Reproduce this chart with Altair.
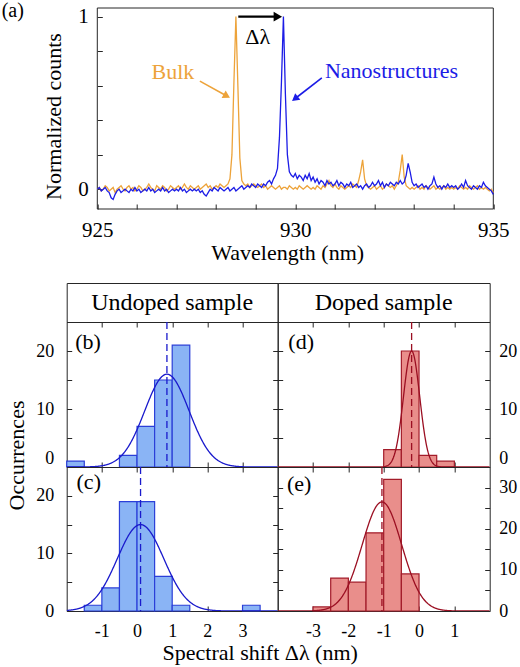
import altair as alt
import numpy as np
import pandas as pd

FONT = "Liberation Serif"
INK = "#262626"

# ---------------- (a) PL spectra ----------------
wavelength = np.round(np.arange(925.0, 935.0001, 0.05), 2)

bulk_counts = [
    0.00, 0.01, -0.01, 0.00, 0.02, 0.01, -0.01, 0.00, 0.01, -0.02, 0.00, 0.01, 0.02, 0.00, -0.01, 0.01, 0.02, 0.00, 0.01, -0.01,
    0.00, 0.02, 0.01, -0.01, 0.00, 0.01, 0.03, 0.01, 0.00, -0.01, 0.02, 0.01, 0.00, 0.02, 0.01, -0.01, 0.00, 0.02, 0.01, 0.00,
    0.01, 0.02, 0.00, 0.01, 0.03, 0.01, 0.00, 0.02, 0.01, 0.00, 0.01, 0.02, 0.00, 0.01, 0.02, 0.03, 0.01, 0.02, 0.00, 0.01,
    0.02, 0.01, 0.03, 0.02, 0.01, 0.02, 0.03, 0.06, 0.20, 0.62, 1.00, 0.60, 0.18, 0.05, 0.03, 0.02, 0.03, 0.01, 0.02, 0.03,
    0.02, 0.01, 0.02, 0.03, 0.01, 0.02, 0.00, 0.01, 0.02, 0.01, 0.00, 0.01, 0.02, 0.00, 0.01, 0.01, 0.00, 0.02, 0.01, 0.00,
    0.01, 0.00, 0.02, 0.01, 0.00, 0.01, 0.02, 0.01, 0.00, 0.01, 0.00, 0.02, 0.01, 0.00, 0.02, 0.01, 0.03, 0.05, 0.02, 0.01,
    0.03, 0.01, 0.00, 0.02, 0.01, 0.00, 0.01, 0.02, 0.01, 0.03, 0.02, 0.01, 0.05, 0.10, 0.17, 0.06, 0.02, 0.01, 0.00, 0.01,
    0.02, 0.00, 0.01, 0.02, 0.00, 0.01, 0.03, 0.02, 0.01, 0.02, 0.00, 0.02, 0.04, 0.11, 0.20, 0.07, 0.02, 0.01, 0.00, 0.01,
    0.00, 0.01, 0.02, 0.00, 0.01, 0.00, 0.02, 0.01, 0.00, 0.01, 0.02, 0.00, 0.01, 0.00, 0.01, 0.02, 0.00, 0.01, 0.00, 0.01,
    0.00, 0.01, 0.00, 0.02, 0.01, 0.00, 0.01, 0.00, 0.02, 0.01, 0.00, 0.01, 0.02, 0.00, 0.01, 0.00, 0.01, 0.00, -0.01, 0.00,
    -0.02,
]

nano_counts = [
    0.00, 0.01, -0.01, 0.00, 0.01, -0.01, -0.02, -0.05, -0.06, -0.03, -0.01, 0.00, -0.02, -0.01, 0.00, -0.01, -0.02, 0.00, -0.01, 0.01,
    -0.01, 0.00, -0.02, -0.01, 0.00, -0.01, 0.01, -0.01, 0.00, -0.02, -0.01, 0.00, -0.01, 0.01, -0.01, 0.00, -0.02, -0.01, 0.00, -0.01,
    0.00, -0.01, 0.01, -0.01, 0.00, -0.02, -0.01, 0.00, -0.01, 0.00, -0.01, 0.00, -0.02, -0.01, -0.03, -0.04, -0.02, 0.00, -0.01, 0.01,
    0.00, -0.01, 0.01, 0.00, -0.01, 0.00, 0.01, -0.01, 0.00, 0.01, -0.01, 0.00, 0.01, 0.02, 0.00, 0.01, 0.02, 0.01, 0.03, 0.02,
    0.01, 0.03, 0.02, 0.01, 0.03, 0.02, 0.04, 0.05, 0.03, 0.06, 0.08, 0.12, 0.30, 0.62, 1.00, 0.55, 0.20, 0.10, 0.08, 0.07,
    0.09, 0.06, 0.08, 0.07, 0.05, 0.08, 0.06, 0.09, 0.05, 0.07, 0.04, 0.06, 0.03, 0.05, 0.04, 0.02, 0.05, 0.03, 0.04, 0.02,
    0.03, 0.05, 0.02, 0.04, 0.03, 0.01, 0.03, 0.02, 0.04, 0.01, 0.02, 0.03, 0.01, 0.02, 0.00, 0.02, 0.03, 0.01, 0.02, 0.04,
    0.02, 0.03, 0.05, 0.02, 0.04, 0.01, 0.03, 0.02, 0.04, 0.03, 0.02, 0.04, 0.03, 0.05, 0.03, 0.04, 0.08, 0.15, 0.10, 0.04,
    0.02, 0.03, 0.01, 0.02, 0.03, 0.01, 0.02, 0.00, 0.02, 0.03, 0.07, 0.03, 0.01, 0.02, 0.00, 0.02, 0.01, 0.03, 0.01, 0.02,
    0.01, 0.02, 0.00, 0.01, 0.03, 0.01, 0.05, 0.02, 0.01, 0.00, 0.02, 0.01, 0.00, 0.02, 0.01, 0.04, 0.02, 0.01, 0.00, -0.01,
    -0.03,
]

# ---------------- (b)-(e) spectral-shift histograms ----------------
BIN_WIDTH = 0.5
undoped_top_bins = [-2.0, -0.5, 0.0, 0.5, 1.0]
undoped_top_counts = [1, 2, 7, 15, 21]
undoped_bottom_bins = [-1.5, -1.0, -0.5, 0.0, 0.5, 1.0, 3.0]
undoped_bottom_counts = [1, 4, 19, 19, 6, 1, 1]
doped_top_bins = [-1.0, -0.5, 0.0, 0.5]
doped_top_counts = [3, 20, 2, 1]
doped_bottom_bins = [-3.0, -2.5, -2.0, -1.5, -1.0, -0.5]
doped_bottom_counts = [1, 8, 7, 19, 32, 9]

# Gaussian fits: amplitude, centre (nm), sigma (nm)
undoped_top_fit = [16.0, 0.85, 0.63]
undoped_bottom_fit = [15.0, 0.10, 0.66]
doped_top_fit = [20.0, -0.21, 0.23]
doped_bottom_fit = [26.5, -1.05, 0.56]

BLUE_FILL, BLUE_EDGE, BLUE_LINE = "#8ab4f5", "#2b3fd8", "#1a1acc"
RED_FILL, RED_EDGE, RED_LINE = "#e98e8b", "#a31c2a", "#9b0f22"
SPEC_BLUE, SPEC_ORANGE = "#1c1ce6", "#eda33a"


def make_axis(orient, values, show, expr, pad, size=18, flush=False, offset=-5, **extra):
    opts = dict(
        orient=orient, values=values, tickSize=5, offset=offset, domain=False,
        grid=False, ticks=True, tickColor=INK, tickWidth=1,
        labels=show, labelExpr=expr, labelFont=FONT, labelFontSize=size,
        labelColor="black", labelPadding=pad, labelFlush=flush,
        labelOverlap=False, title=None,
    )
    opts.update(extra)
    return alt.Axis(**opts)


# ---------------- panel (a) ----------------
# the view spans the full figure width; the plotting range is inset on the left
W_A, H_A = 426.6, 201
INSET = 30.6
A_XDOM = [925, 935]
A_YDOM = [-0.115, 1.05]
xa = alt.Scale(domain=A_XDOM, range=[INSET, W_A], nice=False, zero=False)
ya = alt.Scale(domain=A_YDOM, nice=False, zero=False)

bulk_df = pd.DataFrame({"wl": wavelength, "v": bulk_counts})
nano_df = pd.DataFrame({"wl": wavelength, "v": nano_counts})

a_xaxis = make_axis(
    "bottom", list(range(925, 936)), True,
    "datum.value % 5 == 0 ? '' + datum.value : ''", 10, size=21,
    title="Wavelength (nm)", titleFont=FONT, titleFontSize=22,
    titleFontWeight="normal", titleColor="black", titleX=220.5, titleY=55,
    titleAlign="center", titleBaseline="alphabetic",
)
a_yaxis = make_axis(
    "left", [0, 0.2, 0.4, 0.6, 0.8, 1], True,
    "datum.value == 0 || datum.value == 1 ? '' + datum.value : ''", 9, size=21,
    offset=-(INSET + 5),
    title="Normalized counts", titleFont=FONT, titleFontSize=22,
    titleFontWeight="normal", titleColor="black", titleX=-42, titleY=108,
    titleAngle=270, titleAlign="center", titleBaseline="alphabetic",
)

bulk_line = alt.Chart(bulk_df).mark_line(color=SPEC_ORANGE, strokeWidth=1.3).encode(
    x=alt.X("wl:Q", scale=xa, axis=a_xaxis),
    y=alt.Y("v:Q", scale=ya, axis=a_yaxis),
)
nano_line = alt.Chart(nano_df).mark_line(color=SPEC_BLUE, strokeWidth=1.3).encode(
    x=alt.X("wl:Q", scale=xa, axis=None),
    y=alt.Y("v:Q", scale=ya, axis=None),
)
frame_a = alt.Chart(pd.DataFrame({
    "x0": [A_XDOM[0]], "x1": [A_XDOM[1]], "y0": [A_YDOM[0]], "y1": [A_YDOM[1]]
})).mark_rect(fillOpacity=0, stroke=INK, strokeWidth=1).encode(
    x=alt.X("x0:Q", scale=xa, axis=None), x2="x1:Q",
    y=alt.Y("y0:Q", scale=ya, axis=None), y2="y1:Q",
)

# annotation arrows: shaft start, head position, head direction
arrows = pd.DataFrame({
    "x0": [928.56, 927.59, 930.67],
    "y0": [1.0, 0.626, 0.645],
    "x1": [929.56, 928.27, 929.99],
    "y1": [1.0, 0.540, 0.524],
    "ang": [90, 119, 232],
    "c": ["#000000", SPEC_ORANGE, SPEC_BLUE],
    "w": [2.2, 1.6, 1.6],
    "sz": [95, 70, 70],
})
shafts = alt.Chart(arrows).mark_rule().encode(
    x=alt.X("x0:Q", scale=xa, axis=None), y=alt.Y("y0:Q", scale=ya, axis=None),
    x2="x1:Q", y2="y1:Q",
    color=alt.Color("c:N", scale=None),
    strokeWidth=alt.StrokeWidth("w:Q", scale=None),
)
heads = alt.Chart(arrows).mark_point(shape="triangle-up", filled=True, opacity=1).encode(
    x=alt.X("x1:Q", scale=xa, axis=None), y=alt.Y("y1:Q", scale=ya, axis=None),
    angle=alt.Angle("ang:Q", scale=None),
    size=alt.Size("sz:Q", scale=None),
    color=alt.Color("c:N", scale=None),
)
a_text = pd.DataFrame({
    "x": [929.05, 926.91, 932.43],
    "y": [0.84, 0.641, 0.643],
    "t": ["Δλ", "Bulk", "Nanostructures"],
    "c": ["#000000", SPEC_ORANGE, SPEC_BLUE],
})
a_labels = alt.Chart(a_text).mark_text(
    font=FONT, fontSize=22, align="center", baseline="alphabetic"
).encode(
    x=alt.X("x:Q", scale=xa, axis=None), y=alt.Y("y:Q", scale=ya, axis=None),
    text="t:N", color=alt.Color("c:N", scale=None),
)
a_tag = alt.Chart(pd.DataFrame({"t": ["(a)"]})).mark_text(
    font=FONT, fontSize=20, align="left", baseline="alphabetic", color="black"
).encode(x=alt.value(-65), y=alt.value(9), text="t:N")

panel_a = alt.layer(frame_a, bulk_line, nano_line, shafts, heads, a_labels, a_tag).resolve_axis(
    x="independent", y="independent"
).properties(width=W_A, height=H_A, view=alt.ViewBackground(strokeOpacity=0))


# ---------------- histogram panels ----------------
def hist_panel(bins, counts, fit, x_dom, y_top, fill, edge, line_col, tag, tag_xy,
               left_lab, right_lab, bottom_lab, w, h, flush, xtitle=None, ytitle=None):
    bars = pd.DataFrame({
        "start": bins,
        "end": [b + BIN_WIDTH for b in bins],
        "n": counts,
    })
    xs = np.linspace(x_dom[0], x_dom[1], 481)
    curve = pd.DataFrame({
        "x": xs,
        "y": fit[0] * np.exp(-(xs - fit[1]) ** 2 / (2 * fit[2] ** 2)),
    })
    sx = alt.Scale(domain=x_dom, nice=False, zero=False)
    sy = alt.Scale(domain=[0, y_top], nice=False, zero=False)
    xticks = list(range(int(x_dom[0]) + 1, int(x_dom[1])))
    yticks = list(range(0, y_top, 5))
    yexpr = "datum.value % 10 == 0 ? '' + datum.value : ''"
    xexpr = "'' + datum.value"

    bottom_extra = {}
    if xtitle:
        bottom_extra = dict(title=xtitle, titleFont=FONT, titleFontSize=22,
                            titleFontWeight="normal", titleColor="black",
                            titleX=193, titleY=53, titleAlign="center",
                            titleBaseline="alphabetic")
    left_extra = {}
    if ytitle:
        left_extra = dict(title=ytitle, titleFont=FONT, titleFontSize=22,
                          titleFontWeight="normal", titleColor="black",
                          titleX=-48, titleY=-12, titleAngle=270,
                          titleAlign="center", titleBaseline="alphabetic")

    x_bottom = make_axis("bottom", xticks, bottom_lab, xexpr, 11, **bottom_extra)
    x_top = make_axis("top", xticks, False, xexpr, 4)
    y_left = make_axis("left", yticks, left_lab, yexpr, 13, flush=flush, **left_extra)
    y_right = make_axis("right", yticks, right_lab, yexpr, 9, flush=flush)

    bar_layer = alt.Chart(bars).mark_bar(fill=fill, stroke=edge, strokeWidth=1.2, opacity=1).encode(
        x=alt.X("start:Q", scale=sx, axis=x_bottom),
        x2="end:Q",
        y=alt.Y("n:Q", scale=sy, axis=y_left),
        y2=alt.datum(0),
    )
    fit_layer = alt.Chart(curve).mark_line(color=line_col, strokeWidth=1.3, clip=True).encode(
        x=alt.X("x:Q", scale=sx, axis=x_top),
        y=alt.Y("y:Q", scale=sy, axis=y_right),
    )
    centre = alt.Chart(pd.DataFrame({"mu": [fit[1]]})).mark_rule(
        color=line_col, strokeWidth=1.3, strokeDash=[7, 4]
    ).encode(x=alt.X("mu:Q", scale=sx, axis=None))
    tag_layer = alt.Chart(pd.DataFrame({"x": [tag_xy[0]], "y": [tag_xy[1]], "t": [tag]})).mark_text(
        font=FONT, fontSize=22, align="left", baseline="alphabetic", color="black"
    ).encode(
        x=alt.X("x:Q", scale=sx, axis=None), y=alt.Y("y:Q", scale=sy, axis=None), text="t:N"
    )
    return alt.layer(bar_layer, fit_layer, centre, tag_layer).resolve_axis(
        x="independent", y="independent"
    ).properties(width=w, height=h, view=alt.ViewBackground(stroke=INK, strokeWidth=1))


def header(label, w):
    return alt.Chart(pd.DataFrame({"t": [label]})).mark_text(
        font=FONT, fontSize=24, align="center", baseline="alphabetic", color="black"
    ).encode(x=alt.value(w / 2), y=alt.value(27), text="t:N").properties(
        width=w, height=39, view=alt.ViewBackground(stroke=INK, strokeWidth=1)
    )


WL, WR = 211, 212
H1, H2 = 145, 144

panel_b = hist_panel(undoped_top_bins, undoped_top_counts, undoped_top_fit, [-2, 4], 25,
                     BLUE_FILL, BLUE_EDGE, BLUE_LINE, "(b)", [-1.76, 20.3],
                     True, False, False, WL, H1, True)
panel_c = hist_panel(undoped_bottom_bins, undoped_bottom_counts, undoped_bottom_fit, [-2, 4], 25,
                     BLUE_FILL, BLUE_EDGE, BLUE_LINE, "(c)", [-1.72, 21.1],
                     True, False, True, WL, H2, False,
                     xtitle="Spectral shift Δλ (nm)", ytitle="Occurrences")
panel_d = hist_panel(doped_top_bins, doped_top_counts, doped_top_fit, [-4, 2], 25,
                     RED_FILL, RED_EDGE, RED_LINE, "(d)", [-3.70, 20.4],
                     False, True, False, WR, H1, True)
panel_e = hist_panel(doped_bottom_bins, doped_bottom_counts, doped_bottom_fit, [-4, 2], 35,
                     RED_FILL, RED_EDGE, RED_LINE, "(e)", [-3.74, 29.2],
                     False, True, True, WR, H2, False)

lower = alt.concat(
    header("Undoped sample", WL), header("Doped sample", WR),
    panel_b, panel_d,
    panel_c, panel_e,
    columns=2, spacing=0, bounds="flush",
    align=alt.RowColLayoutAlign(row="each", column="each"),
)

chart = alt.vconcat(panel_a, lower, spacing=74, bounds="flush").properties(
    autosize=alt.AutoSizeParams(type="none"),
    padding={"left": 66.7, "top": 8, "right": 453.3, "bottom": 659},
).configure(background="white")

chart.save("out.html", embed_options={"renderer": "svg", "actions": False})
